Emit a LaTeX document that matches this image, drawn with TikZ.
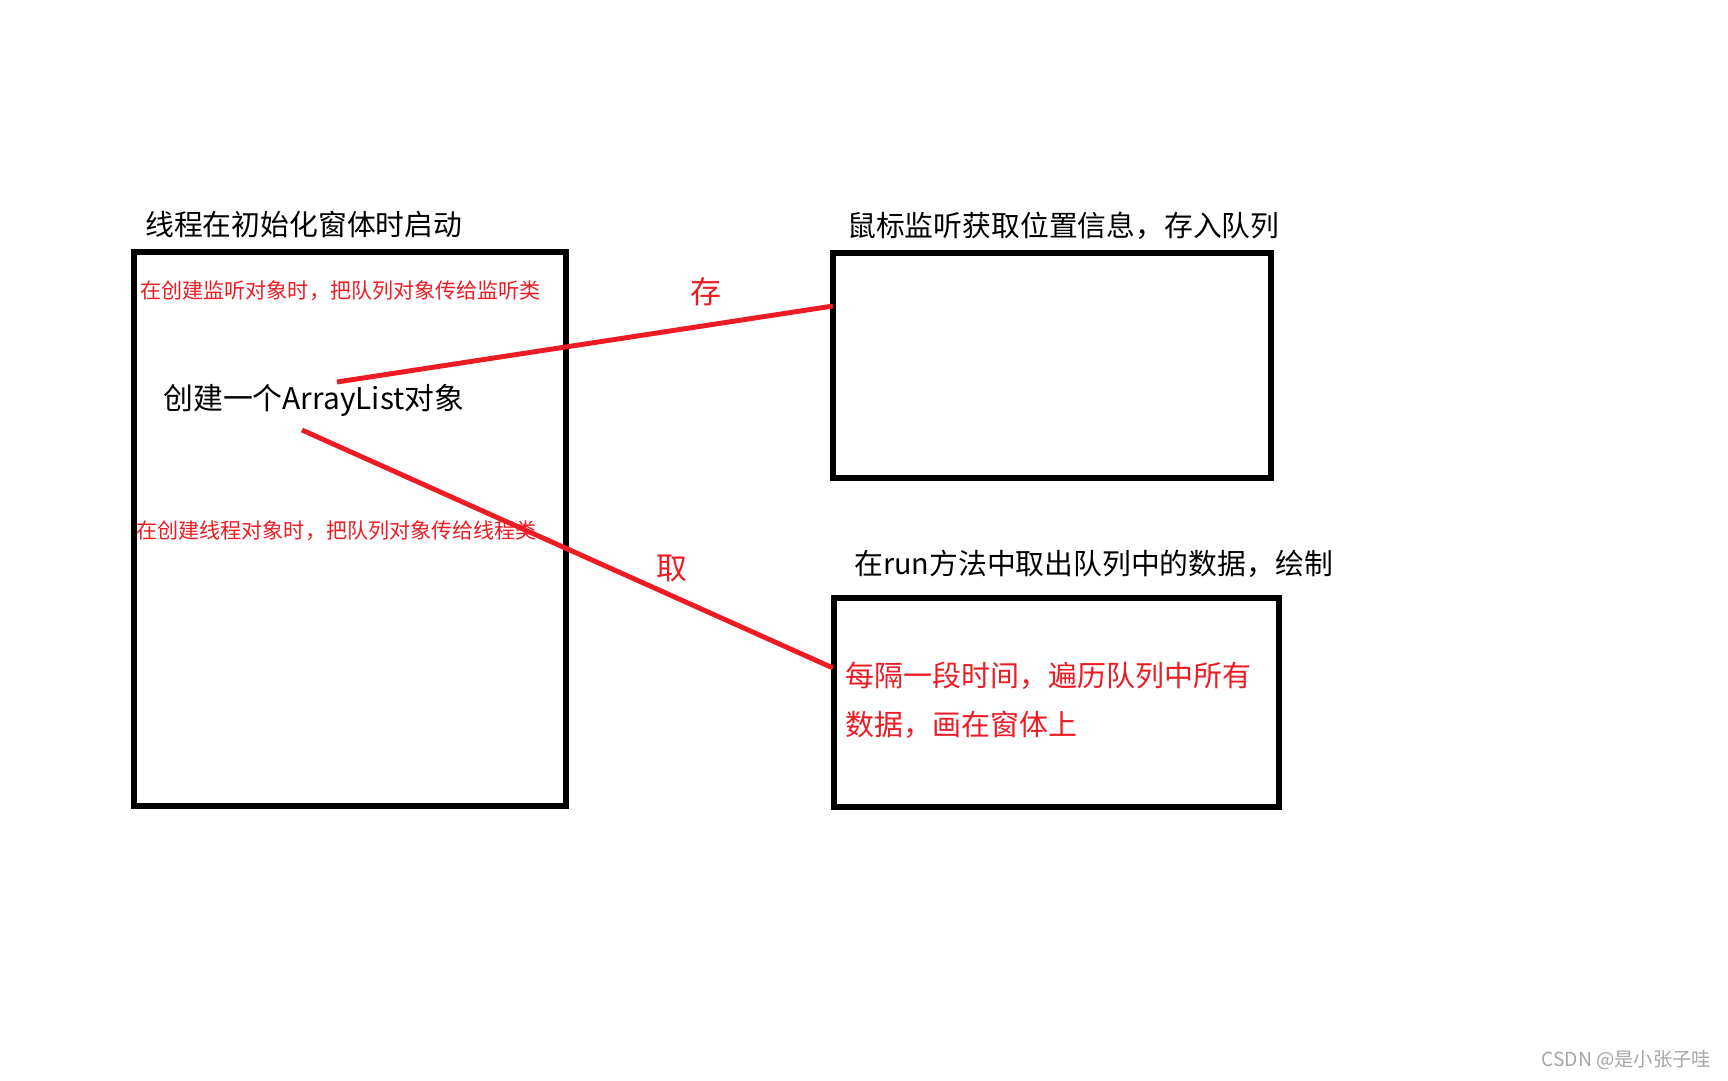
\documentclass[tikz,border=0pt]{standalone}
\usepackage{fontspec}
\setmainfont{Noto Sans CJK SC}
\definecolor{paintred}{HTML}{ED1C24}

\begin{document}
\begin{tikzpicture}[
  x=0.02cm, y=-0.02cm,
  every node/.style = {inner sep=0pt, anchor=west, align=left},
  box/.style = {draw, line width=3pt, outer sep=0pt, anchor=north west},
  title/.style = {font=\fontsize{16.4}{20}\selectfont},
  note/.style = {text=paintred, font=\fontsize{12}{14}\selectfont},
  verb/.style = {text=paintred, font=\fontsize{17.6}{20}\selectfont, anchor=center},
  link/.style = {draw=paintred, line width=2.8pt}
]
  \useasboundingbox[fill=white] (0,0) rectangle (1728,1080);

  % boxes
  \node[box, minimum width=8.64cm, minimum height=11.08cm] (thread) at (134,252) {};
  \node[box, minimum width=8.76cm, minimum height=4.5cm] (listen) at (833,253) {};
  \node[box, minimum width=8.9cm, minimum height=4.18cm] (paint) at (834,598) {};

  % titles
  \node[title] (threadtitle) at (145,224) {线程在初始化窗体时启动};
  \node[title] (listentitle) at (847,226) {鼠标监听获取位置信息，存入队列};
  \node[title] (painttitle) at (854,564) {在run方法中取出队列中的数据，绘制};

  % texts in the thread box
  \node[note] (listennote) at (140,291) {在创建监听对象时，把队列对象传给监听类};
  \node[font=\fontsize{17}{20}\selectfont] (list) at (163,400) {创建一个ArrayList对象};
  \node[note] (threadnote) at (136,531) {在创建线程对象时，把队列对象传给线程类};

  % text in the paint box
  \node[text=paintred, font=\fontsize{16.5}{28}\selectfont] (paintnote) at (845,700)
    {每隔一段时间，遍历队列中所有\\数据，画在窗体上};

  % put and take
  \coordinate (putstart) at (337,382);
  \coordinate (putend) at (833,306);
  \coordinate (takestart) at (302,430);
  \coordinate (takeend) at (833,668);
  \draw[link] (putstart) -- (putend);
  \draw[link] (takestart) -- (takeend);
  \node[verb] (put) at (706,292) {存};
  \node[verb] (take) at (672,568) {取};

  \node[text=gray!70, font=\fontsize{11}{12}\selectfont] (sign) at (1541,1060) {CSDN @是小张子哇};
\end{tikzpicture}
\end{document}
